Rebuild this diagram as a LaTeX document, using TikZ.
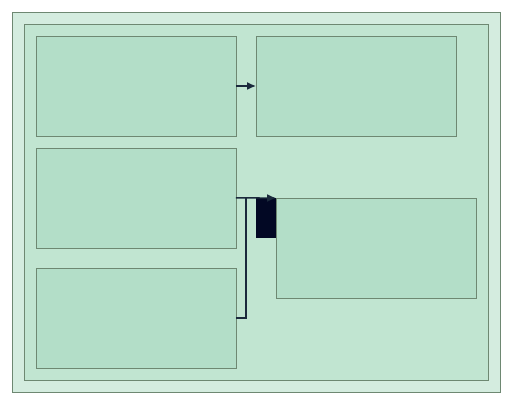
\documentclass[tikz,border=0pt]{standalone}
\usetikzlibrary{arrows.meta}
\definecolor{outerfill}{HTML}{D4ECDF}
\definecolor{innerfill}{HTML}{C1E5D1}
\definecolor{boxfill}{HTML}{B3DEC8}
\definecolor{edge}{HTML}{6E8872}
\definecolor{wire}{HTML}{1B2A3C}
\definecolor{block}{HTML}{020824}
\begin{document}
\begin{tikzpicture}[x=0.02cm, y=-0.02cm,
    panel/.style={draw=edge, line width=0.5pt, fill=boxfill, rectangle, anchor=north west,
      inner sep=0pt, outer sep=0pt, minimum width=4cm, minimum height=2cm},
    wirel/.style={draw=wire, line width=0.85pt},
    arr/.style={wirel, -{Latex[length=5pt, width=4.5pt]}}]
    \useasboundingbox (0, 0) rectangle (513, 405);
    \draw[edge, line width=0.5pt, fill=outerfill] (12, 12) rectangle (500, 392);
    \draw[edge, line width=0.5pt, fill=innerfill] (24, 24) rectangle (488, 380);
    \node[panel] (topleft) at (36, 36) {};
    \node[panel] (topright) at (256, 36) {};
    \node[panel] (midleft) at (36, 148) {};
    \node[panel] (lowleft) at (36, 268) {};
    \node[panel] (target) at (276, 198) {};
    \node[fill=block, anchor=north west, inner sep=0pt, outer sep=0pt,
      minimum width=0.4cm, minimum height=0.8cm] (port) at (256, 198) {};
    \coordinate (join) at (246, 198);
    \draw[arr] (topleft.east) -- (topright.west);
    \draw[arr] (midleft.east) -- (target.north west);
    \draw[wirel] (lowleft.east) -| (join);
  \end{tikzpicture}
\end{document}
